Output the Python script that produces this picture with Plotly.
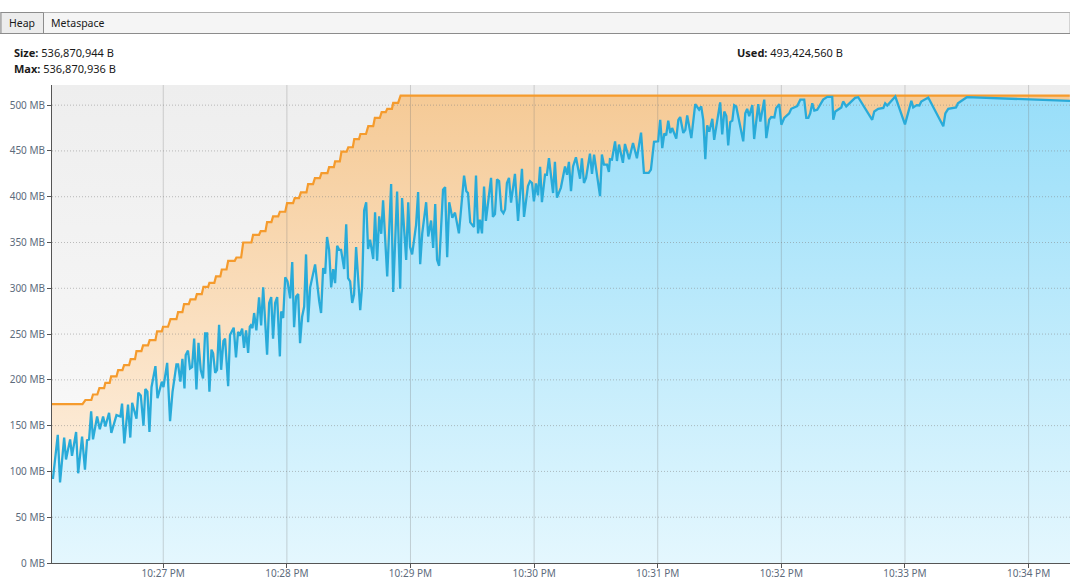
import pandas as pd
import plotly.graph_objects as go

# seconds after 10:26:00 PM, heap size in MB (stair steps)
size_secs = [6, 20.8, 22.2, 25.1, 25.9, 28, 29, 31.3, 31.9, 34, 34.7, 37.3, 38.1, 40.2, 41, 43.4, 44.2,
             46.3, 47, 49.4, 50.2, 52.6, 53.4, 56.2, 57, 59.3, 59.9, 62.3, 63.5, 66.4, 67.2, 69.3, 70.1,
             72.4, 73.2, 75.6, 76.3, 78.7, 79.5, 81.8, 82.4, 84.8, 85.6, 87.7, 88.4, 90.7, 91.5, 94.7,
             95.5, 97.8, 98.8, 102.8, 103.6, 106.5, 107.3, 109.6, 110.4, 112.5, 113.3, 115.8, 116.6,
             119.2, 120.1, 123, 123.8, 125.9, 126.8, 129.5, 130.3, 132.7, 133.6, 136, 136.8, 139.7,
             140.5, 142.8, 143.4, 145.7, 146.5, 149, 149.8, 152, 152.7, 155, 155.7, 158.4, 159.5, 161.9,
             162.7, 165.1, 166, 168, 168.7, 171, 171.6, 174, 175.2, 500]
size_mb = [173.5, 173.5, 178, 178, 184, 184, 191, 191, 196.8, 196.8, 203.7, 203.7, 210.6, 210.6, 216, 216,
           222.6, 222.6, 231.4, 231.4, 237.6, 237.6, 243.4, 243.4, 253, 253, 258, 258, 266.3, 266.3, 274,
           274, 282.7, 282.7, 288, 288, 293.6, 293.6, 301.6, 301.6, 306, 306, 313, 313, 320.5, 320.5, 330,
           330, 333.6, 333.6, 350, 350, 358.4, 358.4, 362.4, 362.4, 372.3, 372.3, 378.5, 378.5, 383.6,
           383.6, 393, 393, 398.5, 398.5, 404.7, 404.7, 413.8, 413.8, 420.3, 420.3, 425.8, 425.8, 432.3,
           432.3, 438.5, 438.5, 449.3, 449.3, 454, 454, 463, 463, 468.5, 468.5, 477, 477, 486, 486, 492.4,
           492.4, 496, 496, 502.5, 502.5, 510.5, 510.5]

# used heap, same time base
used_secs = [6, 6.5, 8.8, 9.9, 11.9, 12.8, 14.8, 15.7, 17.7, 18.7, 20.6, 22, 23, 24, 25, 25.9, 27.9, 29.2, 30.8,
             31.9, 33.7, 34.8, 37.3, 39.2, 40, 41.1, 42.9, 44, 44.9, 47, 47.9, 49.1, 50.4, 51.3, 52.3, 53.3,
             54.3, 56.2, 57.2, 59.3, 60.1, 61.9, 63.3, 64.5, 66.4, 67.2, 68.3, 69.3, 70.3, 70.9, 72, 73, 74,
             75, 76.1, 77.1, 78.2, 79.3, 80.3, 81.3, 82.4, 83.4, 84.2, 85.2, 86.1, 87.1, 88.1, 89.2, 90, 91.5,
             92.4, 94.2, 95.3, 96.3, 97.1, 98.3, 99.2, 100.2, 101.2, 102, 102.5, 103.3, 104.1, 105.2, 106.5,
             107.5, 108.5, 109.4, 110.4, 111.4, 112.4, 113.3, 114.3, 115.3, 116.6, 117.2, 118.2, 119.2, 120.3,
             121.6, 122.6, 123.5, 124.5, 125.5, 126.4, 127.4, 128.4, 129.3, 130.3, 131.3, 133.7, 135.7, 136.6,
             137.6, 138.6, 139.5, 140.5, 141.5, 142.5, 143.4, 144.4, 145.4, 146.3, 147.8, 148.8, 149.7, 150.7,
             151.7, 152.6, 153.6, 154.6, 155.6, 156.5, 157.5, 158.5, 159.4, 160.4, 161.9, 162.8, 163.8, 164.8,
             165.8, 166.7, 167.7, 168.7, 170.6, 171.6, 173.5, 175, 175.9, 177.9, 178.9, 179.8, 180.8, 181.8,
             182.7, 183.7, 184.7, 185.7, 187.6, 188.6, 190, 191, 192, 192.9, 193.9, 195.8, 196.8, 197.8, 198.8,
             200.3, 201.6, 203.5, 206, 207.1, 207.9, 209, 210.8, 211.8, 212.8, 213.7, 214.7, 215.7, 216.6,
             219.1, 220, 221, 222, 223, 224.1, 225.1, 225.9, 226.8, 227.8, 228.8, 230.7, 232.2, 234.1, 235.1,
             237, 238, 239, 239.9, 240.9, 241.9, 242.9, 243.8, 245.3, 246.2, 247.2, 249.2, 250.1, 251.1, 253,
             255, 256, 256.9, 257.9, 258.9, 260.3, 262.3, 263.2, 264.2, 265.2, 267.1, 268.1, 269.1, 272, 272.9,
             273.9, 275.4, 276.3, 276.8, 277.8, 279.3, 280.2, 281.2, 283.1, 284.1, 286.1, 288, 289.9, 291.9,
             293.3, 295.6, 296.7, 298.2, 300.2, 301.2, 302.2, 303.2, 304.1, 305.1, 306.1, 307, 309, 310, 310.9,
             312.4, 313.4, 314.3, 316.3, 318.2, 320.1, 321.1, 322.1, 323.1, 324, 325, 326.5, 327.4, 330.3,
             331.3, 332.3, 333.3, 334.2, 335.2, 336.2, 337.1, 338.1, 341.5, 342.5, 343.4, 344.4, 345.9, 346.8,
             348.8, 349.8, 351.7, 352.7, 354.1, 355.1, 356.6, 357.5, 359, 360, 361.4, 363.8, 364.8, 367.7,
             369.2, 371.1, 372.1, 373.1, 374, 375, 376, 377.4, 380.3, 382.3, 384.7, 385.2, 386.2, 389.1, 390,
             391.5, 395.8, 397.3, 404.1, 405.1, 407, 409.5, 410.4, 411.4, 415.3, 420, 423.1, 424, 425.7, 427,
             427.9, 431.3, 438.6, 439.6, 441, 444.8, 445.7, 450, 500.1]
used_mb = [93, 93, 140, 88, 137, 113, 135, 117, 143, 98, 138, 102, 134, 135, 165.5, 135, 160, 146, 160,
           149, 164, 142, 161.5, 160, 174, 130.5, 173, 137, 175, 157.5, 186, 183, 150, 190, 187, 143,
           192, 215, 180, 198, 192, 218.6, 155, 187, 217, 217, 198, 223, 190.6, 227, 232, 212.5, 214,
           245, 189.5, 240.5, 210.6, 201.5, 250.6, 250.6, 187, 233, 229, 207.7, 211, 260, 211, 242.6, 245, 193,
           249, 257, 224.5, 252.5, 248, 256, 235, 254, 229.5, 258, 259.5, 256.5, 273, 254, 290,
           259.5, 301, 269, 227.4, 284, 290.4, 245, 284, 290.4, 225.6, 274.7, 267.5, 312, 307.5,
           289, 328.6, 257.6, 291, 293.7, 240, 269, 280, 337, 263, 301, 326, 285.7, 273,
           322, 316, 356, 342, 301, 321, 305.7, 346.4, 342, 342, 321, 370, 311, 307.5,
           284, 293, 345, 313, 276, 302, 385, 394, 343, 353, 332, 383, 330, 378.5,
           359.5, 396, 349, 313, 413.8, 296, 405.7, 299.5, 398.5, 331, 394, 345, 337, 356.6,
           369, 405, 326.4, 360, 394, 356.6, 374, 344, 392, 331, 324.6, 407.6, 410.5, 334, 394,
           377, 382.6, 360, 423, 406, 404, 372, 367, 423, 360, 375, 360, 411, 373.5,
           420.6, 378, 381, 419, 417, 385, 382, 386, 415, 420.6, 393.5, 425, 373.5, 430.4, 378,
           411.6, 417, 415, 395, 414.5, 401.4, 432.6, 394, 424, 424, 442, 404, 438, 399, 410,
           433, 424, 438, 406, 433, 443, 419.6, 442, 415, 420.6, 447, 425, 446, 400.7, 446,
           435, 435, 427, 441, 440.6, 460.5, 439, 457, 437, 457.6, 441, 458.7, 442, 470,
           426, 426, 429.7, 460, 460.5, 484, 453, 469, 467, 483, 469.6, 475, 463.4, 484, 487,
           469.6, 473, 488.8, 464, 501, 495, 498.6, 484, 441, 478, 471, 485, 462, 503,
           468, 493, 488, 456, 481.5, 483, 500, 498.6, 460.5, 491, 496, 488, 500, 463,
           501, 482, 506, 464, 484, 487, 486.6, 497, 501, 478.6, 486, 491, 496, 499,
           506, 506, 486, 486, 491, 502, 494, 495, 506, 509, 509, 484, 493, 497.5, 504,
           498.6, 508, 508.7, 484, 493, 496, 497, 502, 499.6, 509.4, 479, 504.7, 497.5, 500, 499.6,
           504, 508.3, 477, 491, 496, 497.5, 502, 508.7, 504.7]

y_ticks = [0, 50, 100, 150, 200, 250, 300, 350, 400, 450, 500]
y_labels = ["0 MB", "50 MB", "100 MB", "150 MB", "200 MB", "250 MB", "300 MB", "350 MB", "400 MB", "450 MB", "500 MB"]
x_ticks = [60, 120, 180, 240, 300, 360, 420, 480]
x_labels = ["10:27 PM", "10:28 PM", "10:29 PM", "10:30 PM", "10:31 PM", "10:32 PM", "10:33 PM", "10:34 PM"]

X_MIN, X_MAX = 6.0, 500.1
Y_MAX = 522

W, H = 1070, 588
M_L, M_R, M_T, M_B = 52, 0, 85, 25
FONT = "Noto Sans"
TICK_COLOR = "#5d6b7c"


def to_time(secs):
    return pd.Timestamp("2015-01-01 22:26:00") + pd.to_timedelta(pd.Series(secs, dtype=float), unit="s")


def px_x(x):
    return (x - M_L) / (W - M_L - M_R)


def px_y(y):
    return 1 - (y - M_T) / (H - M_T - M_B)


fig = go.Figure()

# grey backdrop of the plot area
fig.add_trace(go.Scatter(
    x=to_time([X_MIN, X_MAX]), y=[Y_MAX, Y_MAX], mode="lines", line=dict(width=0), fill="tozeroy",
    fillgradient=dict(type="vertical", start=Y_MAX, stop=0, colorscale=[[0, "#eeeeee"], [0.6, "#f6f6f6"], [1, "#ffffff"]]),
    hoverinfo="skip"))

# size / used areas
fig.add_trace(go.Scatter(
    x=to_time(size_secs), y=size_mb, mode="lines", line=dict(width=0), fill="tozeroy",
    fillgradient=dict(type="vertical", start=510, stop=0, colorscale=[[0, "#f5ca96"], [1, "#fff6ec"]]),
    hoverinfo="skip"))
fig.add_trace(go.Scatter(
    x=to_time(used_secs), y=used_mb, mode="lines", line=dict(width=0), fill="tozeroy",
    fillgradient=dict(type="vertical", start=510, stop=0, colorscale=[[0, "#98def9"], [1, "#e4f7fe"]]),
    hoverinfo="skip"))

# grid has to sit on top of the fills, so it is drawn as traces
grid_x, grid_y = [], []
for t in y_ticks[1:]:
    grid_x += [X_MIN, X_MAX, None]
    grid_y += [t, t, None]
fig.add_trace(go.Scatter(
    x=[None if v is None else to_time([v])[0] for v in grid_x], y=grid_y, mode="lines",
    line=dict(color="rgba(130,130,130,0.5)", width=1, dash="1px,2px"), hoverinfo="skip"))
grid_x, grid_y = [], []
for t in x_ticks:
    grid_x += [t, t, None]
    grid_y += [0, Y_MAX, None]
fig.add_trace(go.Scatter(
    x=[None if v is None else to_time([v])[0] for v in grid_x], y=grid_y, mode="lines",
    line=dict(color="rgba(120,120,120,0.3)", width=1), hoverinfo="skip"))

fig.add_trace(go.Scatter(
    x=to_time(size_secs), y=size_mb, mode="lines", name="Size",
    line=dict(color="#f59b2d", width=2.2)))
fig.add_trace(go.Scatter(
    x=to_time(used_secs), y=used_mb, mode="lines", name="Used",
    line=dict(color="#29abd9", width=2.3)))

# tab strip above the chart
shapes = [
    dict(type="rect", xref="paper", yref="paper", x0=px_x(0), x1=px_x(W), y0=px_y(33.5), y1=px_y(12.5),
         fillcolor="#f5f5f5", line=dict(color="#b0b0b0", width=1)),
    dict(type="rect", xref="paper", yref="paper", x0=px_x(1), x1=px_x(43.5), y0=px_y(33.5), y1=px_y(12.5),
         fillcolor="#ececec", line=dict(color="#8c8c8c", width=1)),
    dict(type="line", xref="paper", yref="paper", x0=px_x(0), x1=px_x(W), y0=px_y(33.5), y1=px_y(33.5),
         line=dict(color="#8c8c8c", width=1)),
]


def text_at(x, y, text, size=10.5, color="#1a1a1a"):
    return dict(xref="paper", yref="paper", x=px_x(x), y=px_y(y), text=text, showarrow=False,
                xanchor="left", yanchor="middle", font=dict(family=FONT, size=size, color=color))


annotations = [
    text_at(7, 23, "Heap"),
    text_at(49, 23, "Metaspace"),
    text_at(12, 52, "<b>Size:</b> 536,870,944 B", size=11),
    text_at(12, 69, "<b>Max:</b> 536,870,936 B", size=11),
    text_at(735, 52, "<b>Used:</b> 493,424,560 B", size=11),
]

fig.update_layout(
    width=W, height=H, autosize=False,
    margin=dict(l=M_L, r=M_R, t=M_T, b=M_B, pad=0),
    paper_bgcolor="white", plot_bgcolor="white",
    showlegend=False, shapes=shapes, annotations=annotations,
    font=dict(family=FONT, size=10, color=TICK_COLOR),
)
fig.update_xaxes(
    range=[to_time([X_MIN])[0], to_time([X_MAX])[0]], tickmode="array",
    tickvals=to_time(x_ticks), ticktext=x_labels, ticks="outside", ticklen=4, tickcolor="#555555",
    ticklabelstandoff=-3,
    showgrid=False, zeroline=False, showline=True, linecolor="#555555", linewidth=1,
)
fig.update_yaxes(
    range=[0, Y_MAX], tickmode="array", tickvals=y_ticks, ticktext=y_labels,
    ticks="outside", ticklen=4, tickcolor="#555555",
    showgrid=False, zeroline=False, showline=True, linecolor="#555555", linewidth=1,
)

# browser default body margin would push the chart 8px off
fig.write_html("out.html", config=dict(displayModeBar=False),
               post_script="document.body.style.margin='0';document.body.style.overflow='hidden';")
